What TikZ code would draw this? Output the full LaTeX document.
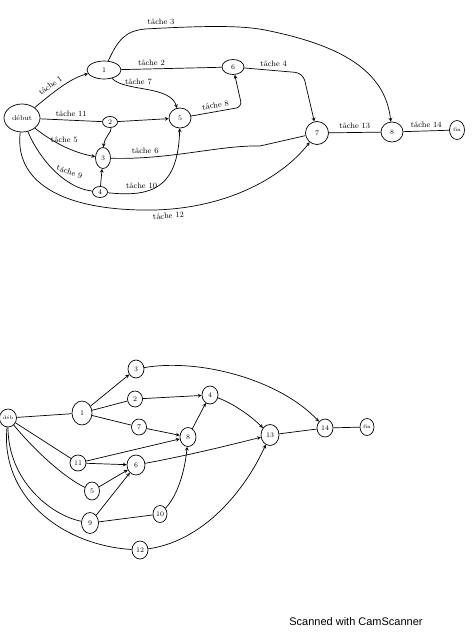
\documentclass[tikz,border=0pt]{standalone}
\usepackage{fontspec}
\usepackage{tikz}
\usetikzlibrary{positioning}
\usetikzlibrary{shapes.geometric}
\newfontfamily\camfont{Liberation Sans}
\tikzset{
    task network/.style={
            x=1pt,y=-1pt,line width=0.7pt,
            every node/.style={font=\footnotesize},
            event/.style={draw,ellipse,inner sep=0pt,font=\scriptsize},
            arrow/.style={-stealth},
            link/.style={-}
        }
    }
\begin{document}
\begin{tikzpicture}[task network]
        \useasboundingbox (0,0) rectangle (474,632);
        % premier graphe
        \node (debut) [event, minimum width=36, minimum height=28] at (22,118) {début};
        \node (A1) [event, minimum width=34, minimum height=18] at (104,70) {1};
        \node (A2) [event, minimum width=15, minimum height=11] at (110,122) {2};
        \node (A3) [event, minimum width=15, minimum height=21] at (103,158) {3};
        \node (A4) [event, minimum width=15, minimum height=11] at (100,192) {4};
        \node (A5) [event, minimum width=22, minimum height=20] at (180,118) {5};
        \node (A6) [event, minimum width=22, minimum height=15] at (233,67) {6};
        \node (A7) [event, minimum width=23, minimum height=23] at (317,133) {7};
        \node (A8) [event, minimum width=22, minimum height=20] at (392,132) {8};
        \node (fin) [event, minimum width=15, minimum height=19, font=\tiny] at (457,130) {fin};
        \draw [arrow] (debut) .. controls (50,95) and (70,78) .. (A1) node [pos=0.4, above=1pt, sloped] {tâche 1};
        \draw [arrow] (A1) .. controls (118,40) and (125,31) .. (145,29) .. controls (200,26) and (240,25) .. (265,30) node [pos=0.1, above] {tâche 3} .. controls (340,45) and (385,70) .. (A8);
        \draw [link] (A1) -- (A6) node [pos=0.3, above] {tâche 2};
        \draw [arrow] (A1) .. controls (125,92) and (170,85) .. (A5) node [pos=0.4, above] {tâche 7};
        \draw [link] (debut) -- (A2) node [midway, above] {tâche 11};
        \draw [arrow] (A2) -- (A5);
        \draw [arrow] (A2) .. controls (112,132) and (104,138) .. (A3);
        \draw [arrow] (debut) .. controls (50,140) and (70,152) .. (A3) node [pos=0.55, above] {tâche 5};
        \draw [link] (debut) .. controls (40,160) and (65,188) .. (A4) node [pos=0.5, above right, rotate=-20, inner sep=1pt] {tâche 9};
        \draw [arrow] (A4) -- (A3);
        \draw [arrow] (A4) .. controls (150,197) and (178,190) .. (A5) node [pos=0.3, above] {tâche 10};
        \draw [link] (A3) .. controls (170,160) and (220,145) .. (260,146) node [pos=0.2, above] {tâche 6} -- (A7);
        \draw [arrow, rounded corners=6] (A5) -- (242,107) node [midway, above, sloped] {tâche 8} -- (A6);
        \draw [arrow, rounded corners=8] (A6) -- (303,73) node [midway, above] {tâche 4} -- (A7);
        \draw [arrow] (debut) .. controls (15,175) and (50,208) .. (140,210) .. controls (220,212) and (280,180) .. (A7) node [pos=0.12, below, sloped] {tâche 12};
        \draw [link] (A7) -- (A8) node [midway, above] {tâche 13};
        \draw [link] (A8) -- (fin) node [midway, above] {tâche 14};
        % second graphe
        \node (B0) [event, minimum width=17, minimum height=18, font=\tiny] at (8,418) {déb};
        \node (B1) [event, minimum width=20, minimum height=24] at (82,413) {1};
        \node (B2) [event, minimum width=15, minimum height=16] at (135,399) {2};
        \node (B3) [event, minimum width=16, minimum height=18] at (136,369) {3};
        \node (B4) [event, minimum width=16, minimum height=18] at (210,395) {4};
        \node (B5) [event, minimum width=15, minimum height=18] at (92,491) {5};
        \node (B6) [event, minimum width=18, minimum height=20] at (136,465) {6};
        \node (B7) [event, minimum width=15, minimum height=16] at (139,427) {7};
        \node (B8) [event, minimum width=16, minimum height=19] at (188,437) {8};
        \node (B9) [event, minimum width=17, minimum height=21] at (90,523) {9};
        \node (B10) [event, minimum width=14, minimum height=17] at (160,514) {10};
        \node (B11) [event, minimum width=16, minimum height=16] at (78,463) {11};
        \node (B12) [event, minimum width=16, minimum height=18] at (140,550) {12};
        \node (B13) [event, minimum width=18, minimum height=21] at (270,435) {13};
        \node (B14) [event, minimum width=16, minimum height=18] at (325,428) {14};
        \node (B15) [event, minimum width=14, minimum height=17, font=\tiny] at (367,427) {fin};
        \draw [link] (B0) -- (B1);
        \draw [arrow] (B1) -- (B3);
        \draw [link] (B1) -- (B2);
        \draw [arrow] (B2) -- (B4);
        \draw [link] (B1) -- (B7);
        \draw [arrow] (B7) -- (B8);
        \draw [arrow] (B8) -- (B4);
        \draw [arrow] (B3) .. controls (200,358) and (280,380) .. (B14);
        \draw [arrow] (B4) .. controls (232,403) and (250,415) .. (B13);
        \draw [link] (B0) -- (B11);
        \draw [arrow] (B11) -- (B8);
        \draw [arrow] (B11) -- (B6);
        \draw [link] (B0) .. controls (30,445) and (60,475) .. (B5);
        \draw [arrow] (B5) -- (B6);
        \draw [link] (B0) .. controls (8,480) and (50,515) .. (B9);
        \draw [arrow] (B9) -- (B6);
        \draw [link] (B9) -- (B10);
        \draw [arrow] (B10) .. controls (178,495) and (185,470) .. (B8);
        \draw [arrow] (B6) .. controls (190,455) and (230,445) .. (B13);
        \draw [link] (B0) .. controls (0,495) and (60,545) .. (B12);
        \draw [arrow] (B12) .. controls (210,540) and (250,480) .. (B13);
        \draw [link] (B13) -- (B14);
        \draw [link] (B14) -- (B15);
        \node (scan) [font=\camfont\fontsize{11}{13}\selectfont] at (356,622) {Scanned with CamScanner};
    \end{tikzpicture}
\end{document}
